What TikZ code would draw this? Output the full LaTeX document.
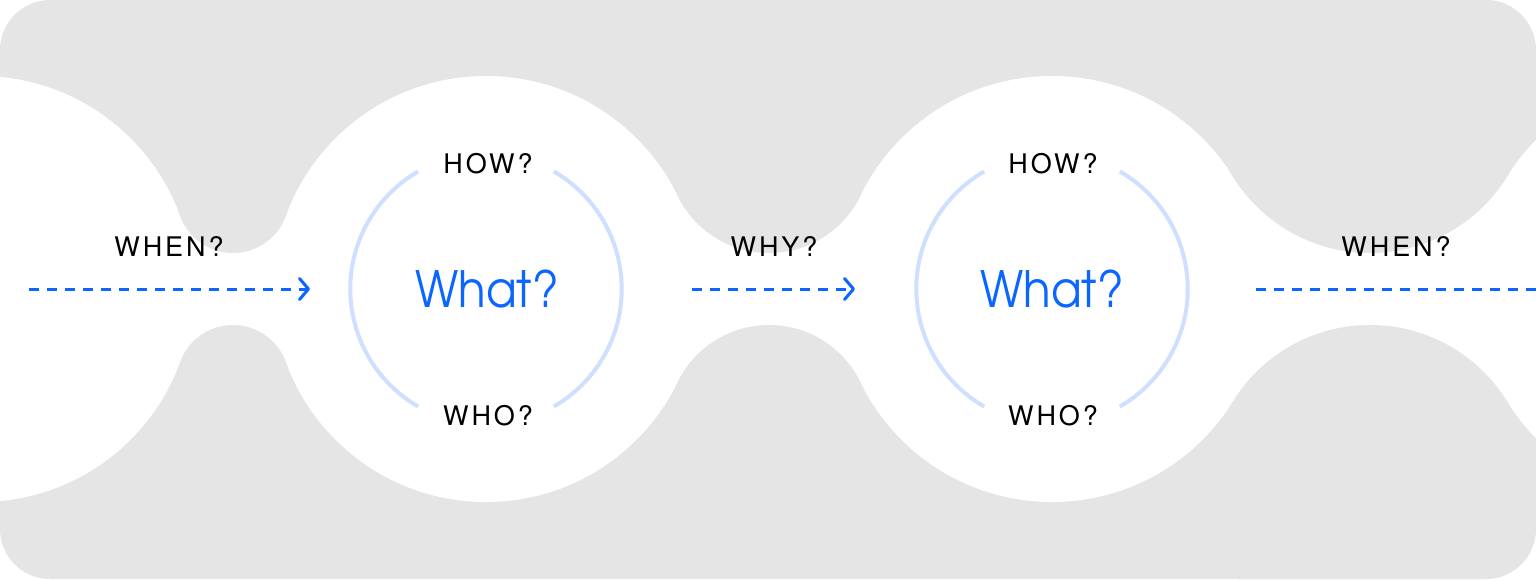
\documentclass[tikz,border=0pt]{standalone}
\usepackage{fontspec}
\setmainfont{TeX Gyre Heros}
\newfontfamily\lblfont[LetterSpace=11]{TeX Gyre Heros}
\newfontfamily\geofont{texgyreadventor-regular}[Extension=.otf]
\usetikzlibrary{arrows.meta}
\definecolor{bggray}{RGB}{229,229,229}
\definecolor{flowblue}{RGB}{10,102,255}
\definecolor{ringblue}{RGB}{207,224,255}
\tikzset{
  lbl/.style={inner sep=0pt, font=\lblfont\fontsize{27}{32}\selectfont, text=black},
  bigq/.style={inner sep=0pt, font=\geofont\fontsize{50}{60}\selectfont, text=flowblue, xscale=0.9},
  ringarc/.style={draw=ringblue, line width=4pt},
  flow/.style={draw=flowblue, line width=3pt, dash pattern=on 10pt off 8pt},
  flowtip/.style={-{Straight Barb[length=9pt,width=21pt,round]}},
}
\begin{document}
\begin{tikzpicture}[x=1pt,y=-1pt]
\useasboundingbox (0,0) rectangle (1536,579);
% background band
\begin{scope}
\clip[rounded corners=50pt] (0,0) rectangle (1536,579);
\fill[bggray] (-10,-10) rectangle (1546,589);
% white circles
\fill[white] (-20,289) circle[radius=213];
\fill[white] (486,289) circle[radius=213];
\fill[white] (1052,289) circle[radius=213];
\fill[white] (1688,289) circle[radius=213];
% necks
\fill[white] (180.1,216) rectangle (285.9,362);
\fill[white] (677.5,195.8) rectangle (860.5,382.2);
\fill[white] (1233,176.7) rectangle (1507,401.3);
% fillets
\fill[bggray] (233,196.7) circle[radius=56.3];
\fill[bggray] (233,381.3) circle[radius=56.3];
\fill[bggray] (769,151.3) circle[radius=101.7];
\fill[bggray] (769,426.7) circle[radius=101.7];
\fill[bggray] (1370,91.8) circle[radius=161.2];
\fill[bggray] (1370,486.2) circle[radius=161.2];
\end{scope}
% rings
\draw[ringarc] (486,289) ++(-60:135.7) arc[start angle=-60, end angle=60, radius=135.7];
\draw[ringarc] (486,289) ++(120:135.7) arc[start angle=120, end angle=240, radius=135.7];
\draw[ringarc] (1052,289) ++(-60:135.7) arc[start angle=-60, end angle=60, radius=135.7];
\draw[ringarc] (1052,289) ++(120:135.7) arc[start angle=120, end angle=240, radius=135.7];
% texts
\node[bigq] (what1) at (487,289) {What?};
\node[bigq] (what2) at (1052,289) {What?};
\node[lbl] (how1) at (488,164) {HOW?};
\node[lbl] (who1) at (488,416) {WHO?};
\node[lbl] (how2) at (1053,164) {HOW?};
\node[lbl] (who2) at (1053,416) {WHO?};
\node[lbl] (when1) at (169,246) {WHEN?};
\node[lbl] (why) at (774,246) {WHY?};
\node[lbl] (when2) at (1396,246) {WHEN?};
% arrows
\coordinate (a1s) at (29,289);
\coordinate (a1e) at (310,289);
\coordinate (a2s) at (692,289);
\coordinate (a2e) at (855,289);
\coordinate (a3s) at (1256,289);
\coordinate (a3e) at (1536,289);
\draw[flow,flowtip] (a1s) -- (a1e);
\draw[flow,flowtip] (a2s) -- (a2e);
\draw[flow] (a3s) -- (a3e);
\end{tikzpicture}
\end{document}
